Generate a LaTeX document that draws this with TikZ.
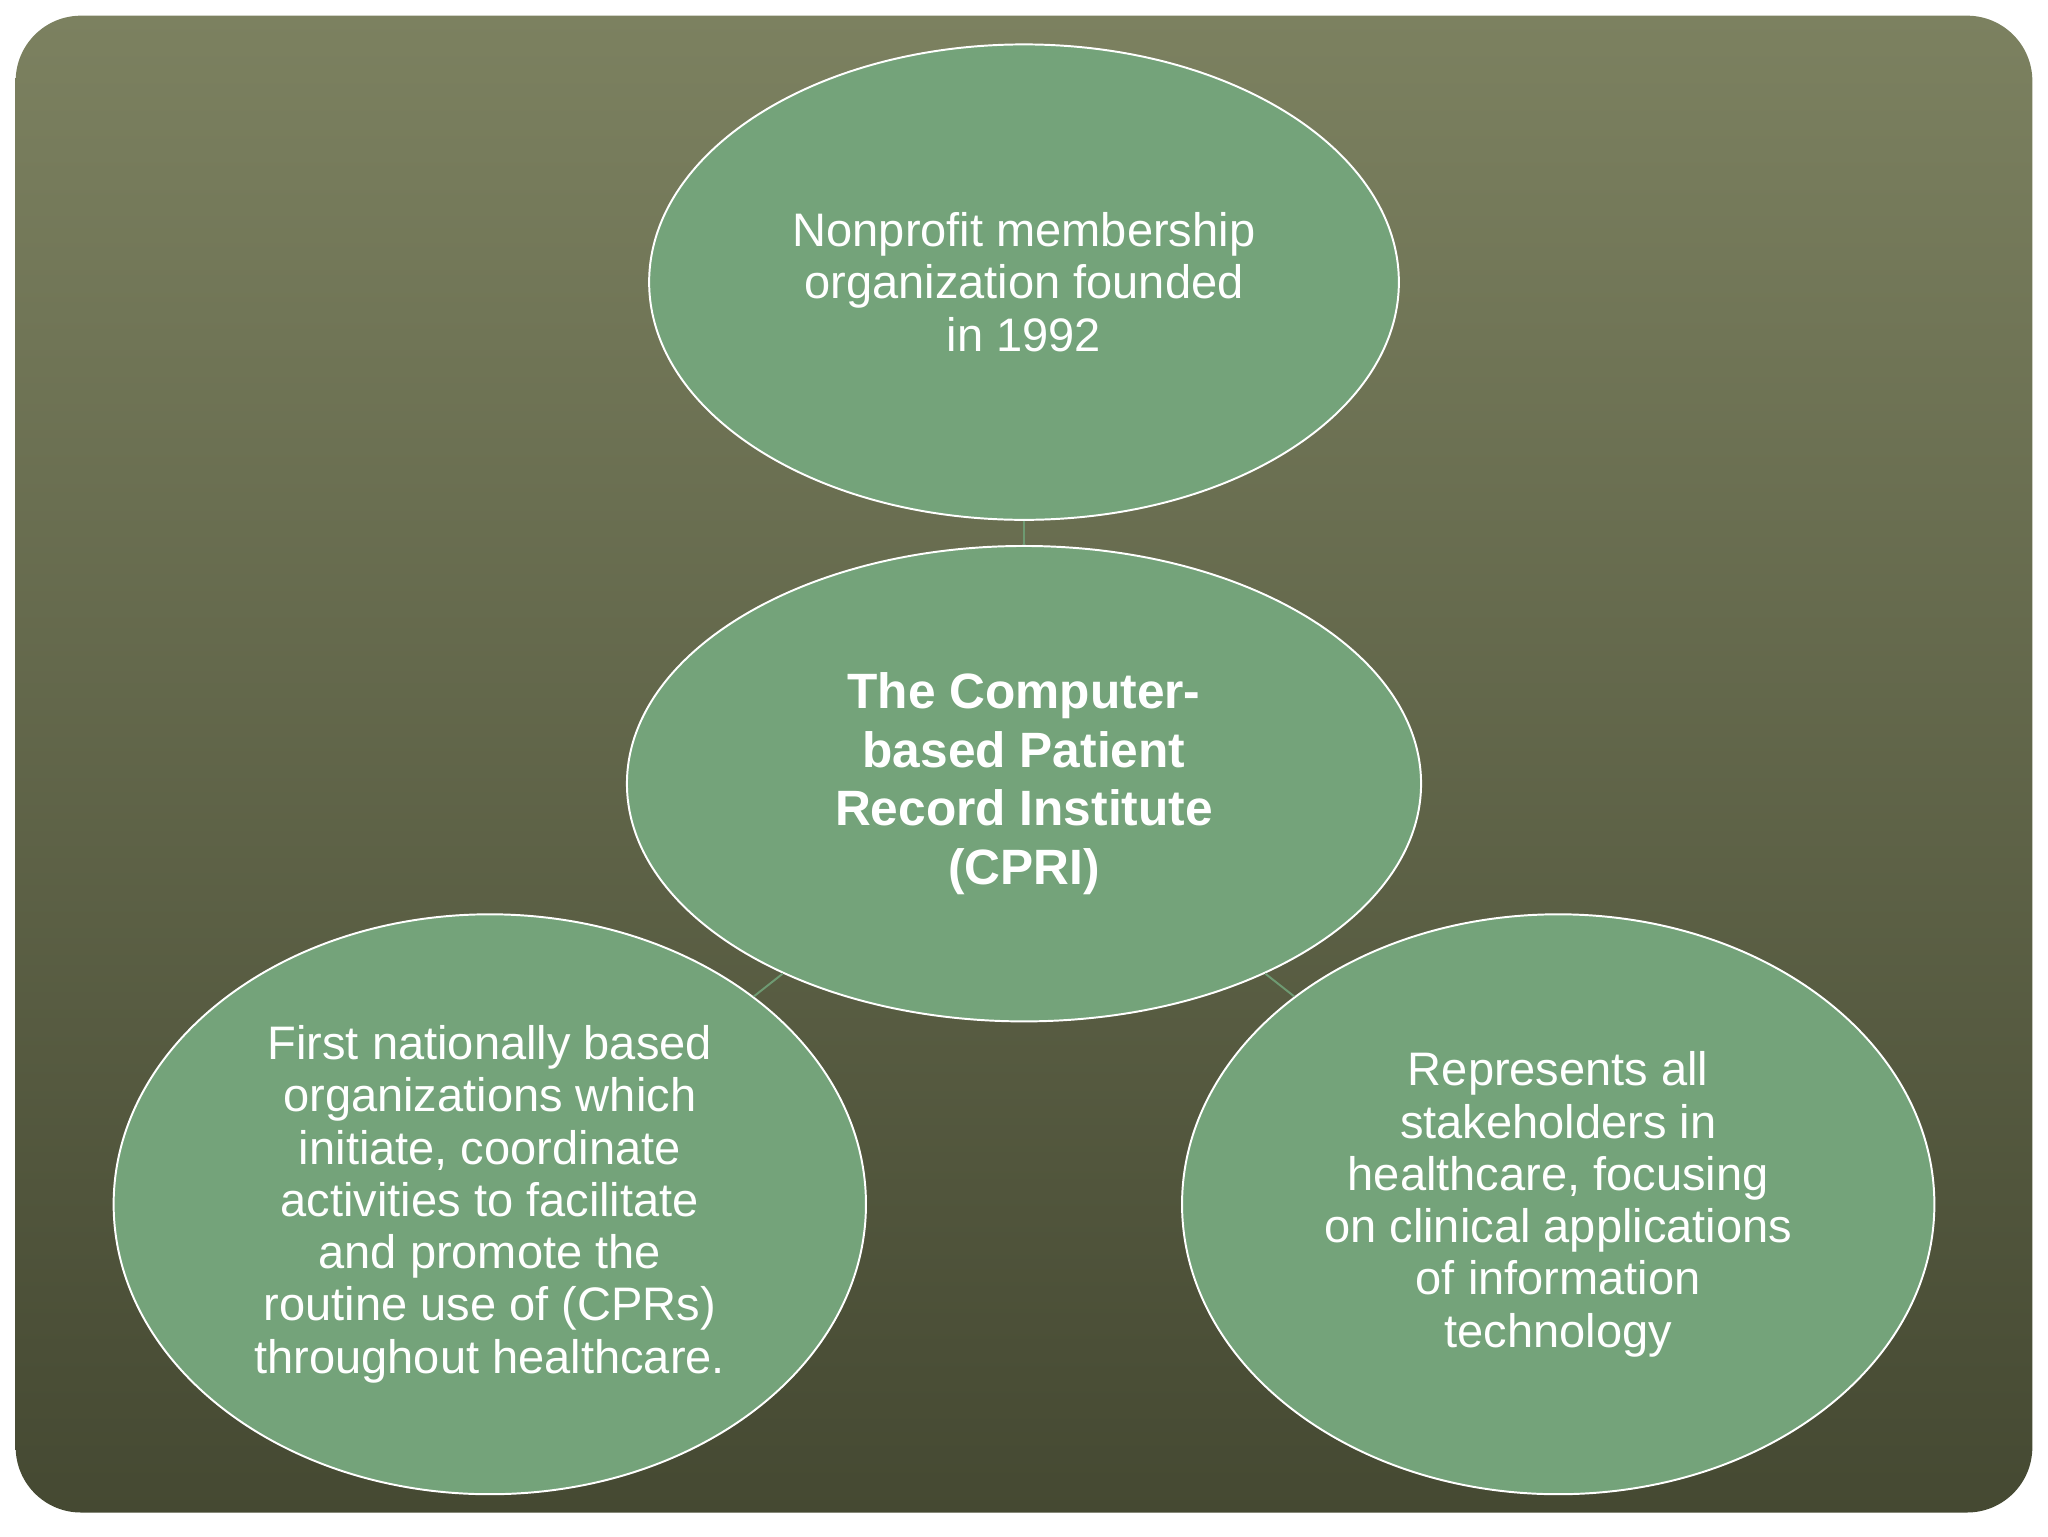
\documentclass[tikz,border=0pt]{standalone}
\usepackage{fontspec}
\setmainfont{Liberation Sans}
\usetikzlibrary{shapes.geometric}
\definecolor{bgtop}{HTML}{7C8160}
\definecolor{bgbot}{HTML}{454932}
\definecolor{ellfill}{HTML}{74A37A}
\definecolor{conn}{HTML}{6E9A72}
\begin{document}
\begin{tikzpicture}[x=1pt,y=-1pt,
  ell/.style={ellipse,draw=white,line width=1.5pt,fill=ellfill,inner sep=0pt,text=white,align=center,
    font=\fontsize{36}{40}\selectfont},
  conn/.style={draw=conn,line width=1.5pt}]
\useasboundingbox (0,0) rectangle (1568,1176);
\shade[top color=bgtop,bottom color=bgbot,rounded corners=50pt] (12,12) rectangle (1556,1158);
\node[ell,minimum width=574pt,minimum height=364pt] (top) at (784,216) {Nonprofit membership\\organization founded\\in 1992};
\node[ell,minimum width=608pt,minimum height=364pt,font=\bfseries\fontsize{38}{45}\selectfont] (mid) at (784,600) {The Computer-\\based Patient\\Record Institute\\(CPRI)};
\node[ell,minimum width=576pt,minimum height=444pt] (left) at (375,922) {First nationally based\\organizations which\\initiate, coordinate\\activities to facilitate\\and promote the\\routine use of (CPRs)\\throughout healthcare.};
\node[ell,minimum width=576pt,minimum height=444pt] (right) at (1193,922) {Represents all\\stakeholders in\\healthcare, focusing\\on clinical applications\\of information\\technology};
\draw[conn] (top) -- (mid);
\draw[conn] (mid) -- (left);
\draw[conn] (mid) -- (right);
\end{tikzpicture}
\end{document}
